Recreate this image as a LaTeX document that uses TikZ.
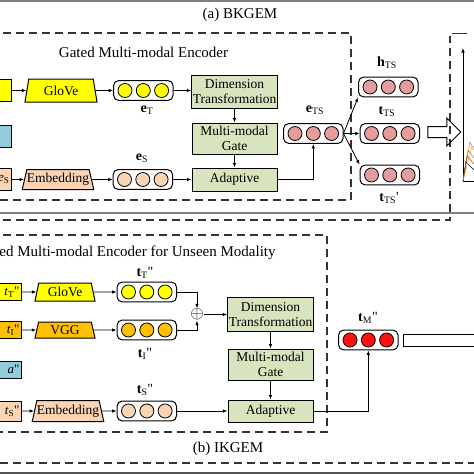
\documentclass[tikz,border=0pt]{standalone}
\usepackage{fontspec}
\setmainfont{Liberation Serif}[Ligatures=TeXOff]
\usetikzlibrary{chains,fit,shapes.geometric,shapes.arrows,positioning,arrows.meta}

\definecolor{gloveyel}{HTML}{FFFF00}
\definecolor{vggorange}{HTML}{FFC000}
\definecolor{relblue}{HTML}{93CDDD}
\definecolor{strpeach}{HTML}{FBD4B4}
\definecolor{encgreen}{HTML}{D7E4BD}
\definecolor{fuserose}{HTML}{E49C9C}
\definecolor{unseenred}{HTML}{FF1010}
\definecolor{linegray}{HTML}{333333}

%% three dots in a rounded box: name, centre, colour
\newcommand{\featvec}[3]{%
  \begin{scope}[start chain=#1 going right,node distance=3.5pt]
    \node [on chain=#1,vdot,fill=#3] (#1a) at ([xshift=-17.5pt]#2) {};
    \node [on chain=#1,vdot,fill=#3] (#1b) {};
    \node [on chain=#1,vdot,fill=#3] (#1c) {};
  \end{scope}
  \node [vbox,fit=(#1a)(#1c)] (#1) {};
}

\begin{document}
\begin{tikzpicture}[x=1pt,y=-1pt,line width=0.8pt]

\tikzstyle{srcbox}=[draw,line width=1pt,anchor=east,text width=40pt,align=right,inner xsep=2pt,inner ysep=0pt,font=\fontsize{13}{13}\selectfont]
\tikzstyle{embed}=[trapezium,trapezium angle=72,trapezium stretches body,draw,line width=1pt,inner xsep=0pt,inner ysep=1pt,font=\fontsize{13.5}{13.5}\selectfont]
\tikzstyle{encbox}=[draw,fill=encgreen,line width=1pt,align=center,inner sep=1pt,font=\fontsize{13.5}{15}\selectfont]
\tikzstyle{vdot}=[circle,draw,line width=0.8pt,minimum size=14pt,inner sep=0pt]
\tikzstyle{vbox}=[draw,rounded corners=5pt,line width=1pt,inner xsep=4pt,inner ysep=2.5pt]
\tikzstyle{lab}=[inner sep=1pt,font=\fontsize{14}{14}\selectfont]
\tikzstyle{title}=[inner sep=1pt,font=\fontsize{15}{15}\selectfont]
\tikzstyle{frame}=[dash pattern=on 8pt off 5pt,line width=1.2pt,linegray]
\tikzstyle{arr}=[-{Latex[length=4.5pt,width=3.5pt]},line width=0.8pt]

\useasboundingbox (0,0) rectangle (474,474);
\clip (0,0) rectangle (474,474);

%% Panel borders
\draw [gray,line width=1.5pt] (0,1) -- (474,1);
\draw [gray,line width=1.2pt] (0,213) -- (474,213);
\draw [linegray!85,line width=3pt] (0,473) -- (474,473);

%% (a) BKGEM
\node [title] (bktitle) at (240,15) {(a) BKGEM};
\draw [frame] (-10,33) -| (351,200) -- (-10,200);
\draw [frame] (-10,220) -| (450,36);
\node [title] (gmetitle) at (143.5,52) {Gated Multi-modal Encoder};

\node [srcbox,fill=gloveyel,minimum height=22pt] (txtA) at (12,90.5) {};
\node [srcbox,fill=relblue,minimum height=22pt] (relA) at (12,136) {};
\node [srcbox,fill=strpeach,minimum height=22pt] (strA) at (12,179.5) {\textit{e}\textsubscript{S}};

\node [embed,fill=gloveyel,minimum width=72pt,minimum height=23pt] (gloveA) at (61,90.5) {GloVe};
\node [embed,fill=strpeach,minimum width=70pt,minimum height=20pt] (embA) at (58,179.5) {Embedding};

\featvec{eT}{142.5,90.5}{gloveyel}
\featvec{eS}{142,179.5}{strpeach}

\node [encbox,minimum width=85pt,minimum height=33pt] (dimA) at (234.5,91.5) {Dimension\\Transformation};
\node [encbox,minimum width=85pt,minimum height=31pt] (gateA) at (234.5,138.5) {Multi-modal\\Gate};
\node [encbox,minimum width=85pt,minimum height=23pt] (adaA) at (234.5,179.5) {Adaptive};

\featvec{eTS}{312.5,133.5}{fuserose}
\featvec{hTS}{387.5,87}{fuserose}
\featvec{tTS}{389,133.5}{fuserose}
\featvec{tTSp}{389,175}{fuserose}

\node [lab] (eTlab) at (147,110) {\textbf{e}\textsubscript{T}};
\node [lab] (eSlab) at (142,158) {\textbf{e}\textsubscript{S}};
\node [lab] (eTSlab) at (315,110) {\textbf{e}\textsubscript{TS}};
\node [lab] (hTSlab) at (387,63) {\textbf{h}\textsubscript{TS}};
\node [lab] (tTSlab) at (387,112) {\textbf{t}\textsubscript{TS}};
\node [lab] (tTSplab) at (389,198) {\textbf{t}\textsubscript{TS}'};

\draw [arr] (txtA) -- (gloveA);
\draw [arr] (gloveA) -- (eT);
\draw [arr] (eT.east) -- (eT.east -| dimA.west);
\draw [arr] (dimA) -- (gateA);
\draw [arr] (gateA) -- (adaA);
\draw [arr] (strA) -- (embA);
\draw [arr] (embA) -- (eS);
\draw [arr] (eS) -- (adaA);
\draw [arr] (adaA.east) -| (eTS.south);
\draw [arr] (eTS.east) -- (hTS.south west);
\draw [arr] (eTS.east) -- (tTS.west);
\draw [arr] (eTS.east) -- (tTSp.north west);

%% Hollow arrow to the score plot
\node [single arrow,draw,line width=1pt,minimum height=33pt,inner sep=5pt,
  single arrow head extend=8.5pt,single arrow head indent=0pt] (toplot) at (441.5,132) {};

\coordinate (axo) at (463,181);
\coordinate (axy) at (463,48);
\coordinate (axx) at (480,181);
\draw [arr] (axo) -- (axy);
\draw (axo) -- (axx);
\draw [linegray] (452,33) -- (467,33);
\draw [brown,line width=0.6pt] (axo) -- (468,150) -- (474,158);
\draw [orange,line width=0.6pt] (axo) -- (470,142) -- (474,150);
\draw [black,line width=0.6pt] (axo) -- (466,162) -- (474,170);
\draw [brown!60,line width=0.6pt] (axo) -- (472,146) -- (474,147);
\draw [orange!70!black,line width=0.6pt] (axo) -- (467,156) -- (474,164);

%% (b) IKGEM
\draw [frame] (-10,235) -| (327,432) -- (-10,432);
\draw [frame] (0,463) -- (474,463);
\node [title,anchor=east] (unseentitle) at (277,253) {Gated Multi-modal Encoder for Unseen Modality};
\node [title] (iktitle) at (228,449) {(b) IKGEM};

\node [srcbox,fill=gloveyel,minimum height=17pt] (txtB) at (22,292) {\textit{t}\textsubscript{T}"};
\node [srcbox,fill=vggorange,minimum height=17pt] (imgB) at (22,330) {\textit{t}\textsubscript{I}"};
\node [srcbox,fill=relblue,minimum height=17pt] (relB) at (22,369.5) {\textit{a}"};
\node [srcbox,fill=strpeach,minimum height=20pt] (strB) at (22,411) {= \textit{t}\textsubscript{S}"};

\node [embed,fill=gloveyel,minimum width=60pt,minimum height=18pt] (gloveB) at (65,292) {GloVe};
\node [embed,fill=vggorange,minimum width=60pt,minimum height=16pt] (vggB) at (65,330) {VGG};
\node [embed,fill=strpeach,minimum width=70pt,minimum height=21pt] (embB) at (68,411) {Embedding};

\featvec{tT}{146,292}{gloveyel}
\featvec{tI}{146,330}{vggorange}
\featvec{tS}{146,411}{strpeach}
\featvec{tM}{367.5,340}{unseenred}

\node [inner sep=0pt,font=\fontsize{17}{17}\selectfont] (sum) at (197,314.5) {$\oplus$};
\node [encbox,minimum width=85pt,minimum height=34pt] (dimB) at (270.5,314.5) {Dimension\\Transformation};
\node [encbox,minimum width=85pt,minimum height=31pt] (gateB) at (270.5,364.5) {Multi-modal\\Gate};
\node [encbox,minimum width=85pt,minimum height=22pt] (adaB) at (270.5,411) {Adaptive};
\node [draw,line width=1pt,anchor=west,minimum width=80pt,minimum height=12pt,inner sep=0pt] (tMbar) at (403,340) {};

\node [lab] (tTlab) at (145,273) {\textbf{t}\textsubscript{T}"};
\node [lab] (tIlab) at (145,354) {\textbf{t}\textsubscript{I}"};
\node [lab] (tSlab) at (145,390) {\textbf{t}\textsubscript{S}"};
\node [lab] (tMlab) at (368,318) {\textbf{t}\textsubscript{M}"};

\draw [arr] (txtB) -- (gloveB);
\draw [arr] (gloveB) -- (tT);
\draw [arr] (imgB) -- (vggB);
\draw [arr] (vggB) -- (tI);
\draw [arr] (tT.east) -| (sum.north);
\draw [arr] (tI.east) -| (sum.south);
\draw [arr] (sum) -- (dimB);
\draw [arr] (dimB) -- (gateB);
\draw [arr] (gateB) -- (adaB);
\draw [arr] (strB) -- (embB);
\draw [arr] (embB) -- (tS);
\draw [arr] (tS) -- (adaB);
\draw [arr] (adaB.east) -| (tM.south);
\end{tikzpicture}
\end{document}
